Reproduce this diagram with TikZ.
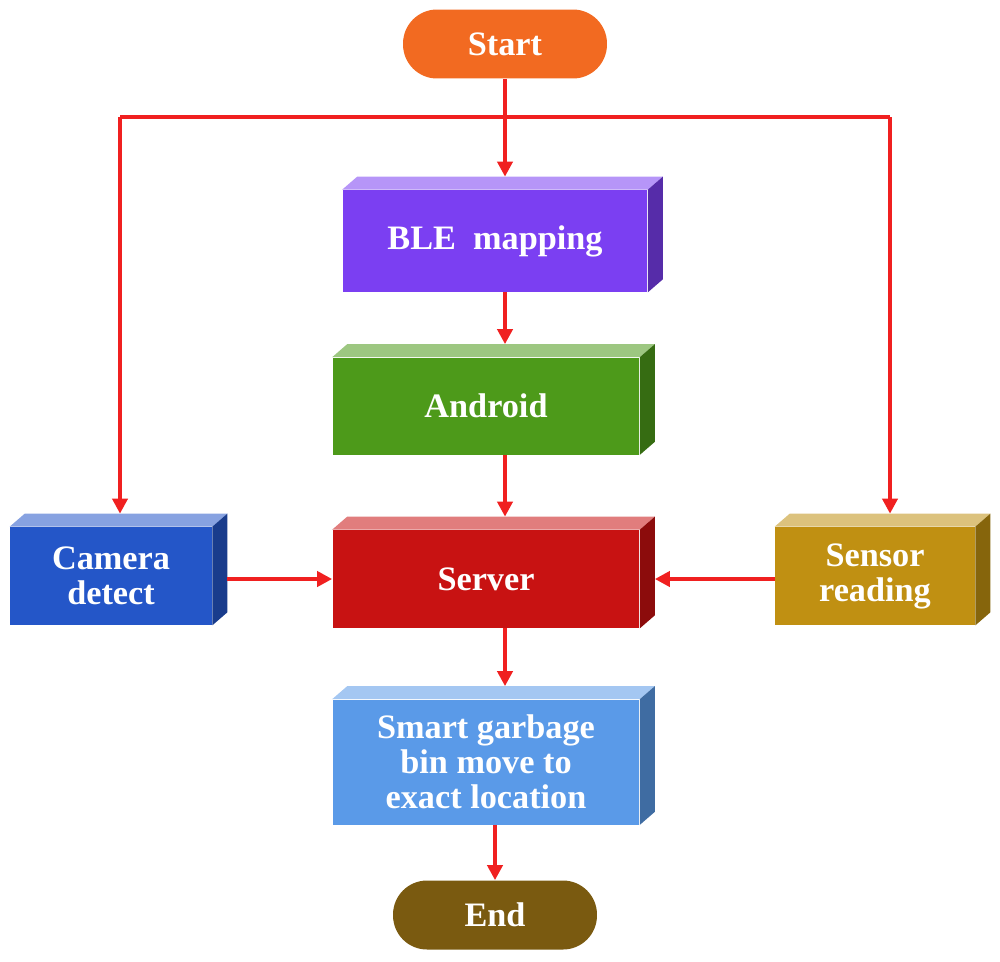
\documentclass[tikz,border=0pt]{standalone}
\usepackage{fontspec}
\setmainfont{Liberation Serif}
\usetikzlibrary{arrows.meta}
\definecolor{cstart}{HTML}{F26A21}
\definecolor{cble}{HTML}{7B3FF2}
\definecolor{cand}{HTML}{4D9A1A}
\definecolor{csrv}{HTML}{C81212}
\definecolor{ccam}{HTML}{2456C8}
\definecolor{csen}{HTML}{C09012}
\definecolor{csmt}{HTML}{5A9AE8}
\definecolor{cend}{HTML}{7A5A10}
\definecolor{cline}{HTML}{F02020}
\newcommand\sidefaces[2]{%
  \fill[#2!55!white] (#1.north west) -- ++(15,-13) -- ([shift={(15,-13)}]#1.north east) -- (#1.north east) -- cycle;
  \fill[#2!70!black] (#1.north east) -- ++(15,-13) -- ([shift={(15,-13)}]#1.south east) -- (#1.south east) -- cycle;}
\begin{document}
\begin{tikzpicture}[x=0.02cm,y=-0.02cm,
  box/.style={inner sep=0pt, text=white, font=\bfseries\fontsize{19.5}{20}\selectfont, align=center},
  pill/.style={box, rounded corners=0.68cm, minimum width=4.08cm, minimum height=1.38cm},
  arr/.style={draw=cline, line width=0.08cm, -{Triangle[length=0.3cm,width=0.3cm]}},
  ln/.style={draw=cline, line width=0.08cm}]
\useasboundingbox (0,0) rectangle (1000,961);
\node[pill, fill=cstart] (start) at (505,44) {Start};
\node[box, fill=cble, minimum width=6.1cm, minimum height=2.04cm] (ble) at (495,241) {BLE\ \ mapping};
\node[box, fill=cand, minimum width=6.14cm, minimum height=1.94cm] (and) at (486,406) {Android};
\node[box, fill=csrv, minimum width=6.14cm, minimum height=1.96cm] (srv) at (486,579) {Server};
\node[box, fill=ccam, minimum width=4.04cm, minimum height=1.96cm] (cam) at (111,576) {Camera\\detect};
\node[box, fill=csen, minimum width=4.0cm, minimum height=1.96cm] (sen) at (875,576) {Sensor\\reading};
\node[box, fill=csmt, minimum width=6.14cm, minimum height=2.5cm] (smt) at (486,762) {Smart garbage\\bin move to\\exact location};
\node[pill, fill=cend] (end) at (495,915) {End};
\sidefaces{ble}{cble}
\sidefaces{and}{cand}
\sidefaces{srv}{csrv}
\sidefaces{cam}{ccam}
\sidefaces{sen}{csen}
\sidefaces{smt}{csmt}
\coordinate (cl) at (120,117);
\coordinate (cr) at (890,117);
\draw[ln] (cl) -- (cr);
\draw[arr] (start.south) -- ([shift={(0,-13)}]start.south |- ble.north);
\draw[arr] (cl) -- ([shift={(0,-13)}]cl |- cam.north);
\draw[arr] (cr) -- ([shift={(0,-13)}]cr |- sen.north);
\draw[arr] (ble.south -| start.south) -- ([shift={(0,-13)}]start.south |- and.north);
\draw[arr] (and.south -| start.south) -- ([shift={(0,-13)}]start.south |- srv.north);
\draw[arr] (srv.south -| start.south) -- ([shift={(0,-13)}]start.south |- smt.north);
\draw[arr] ([shift={(15,0)}]cam.east |- srv.west) -- (srv.west);
\draw[arr] (sen.west |- srv.east) -- ([shift={(15,0)}]srv.east);
\draw[arr] (smt.south -| end.north) -- (end.north);
\end{tikzpicture}
\end{document}
